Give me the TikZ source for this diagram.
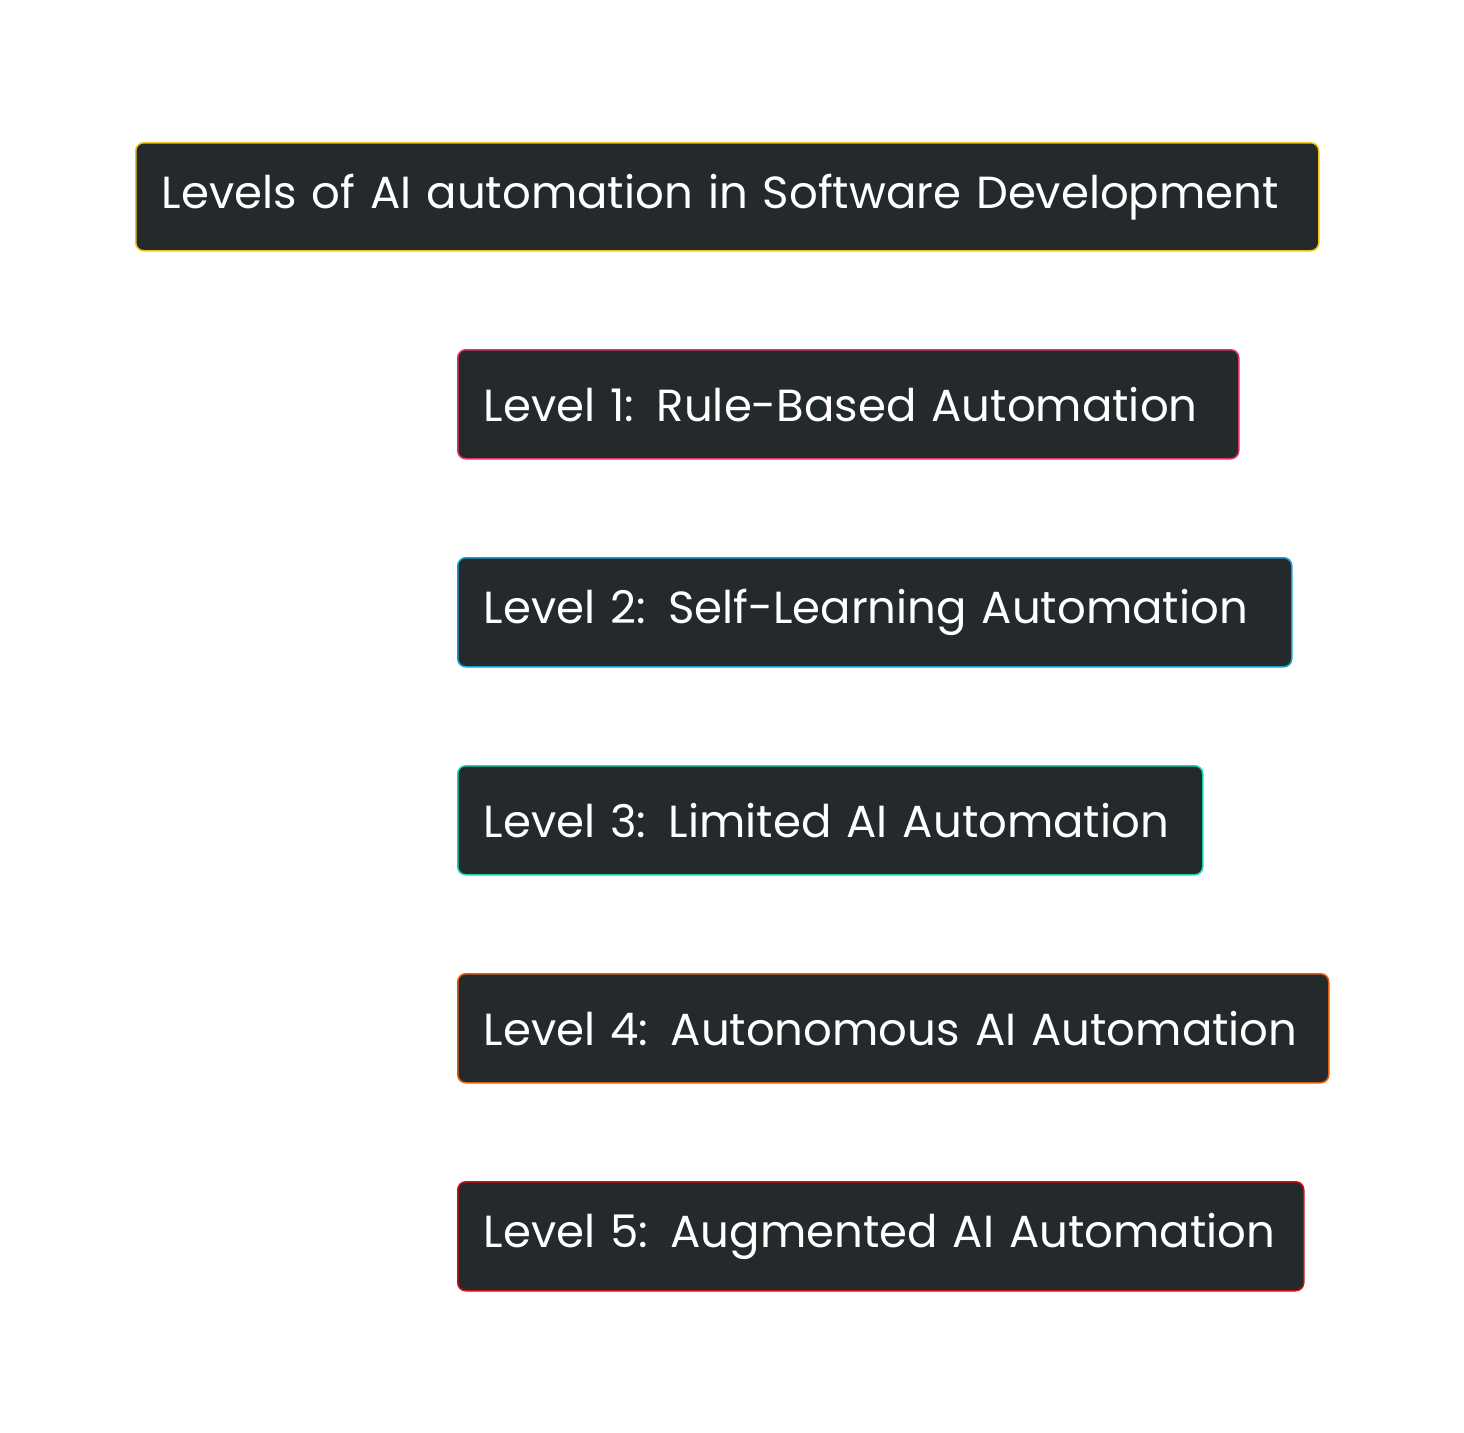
\documentclass[tikz,border=0pt]{standalone}
\usepackage{fontspec}
\setmainfont{Poppins}
\definecolor{bg}{HTML}{24292C}
\definecolor{cT}{HTML}{F0C419}
\definecolor{cA}{HTML}{E0336A}
\definecolor{cB}{HTML}{1A9ED4}
\definecolor{cC}{HTML}{1AD6B0}
\definecolor{cD}{HTML}{E0600F}
\definecolor{cE}{HTML}{D01010}
\tikzset{box/.style={draw=#1, line width=1.5pt, fill=bg, rounded corners=8pt, anchor=north west,
  minimum height=109pt, inner ysep=0pt, inner xsep=26pt, text=white, font=\fontsize{45}{52}\selectfont, align=left}}
\begin{document}
\begin{tikzpicture}[x=1pt,y=-1pt]
\useasboundingbox (0,0) rectangle (1464,1432);
\node[box=cT, minimum height=108pt, text width=1131pt] (t) at (135,142) {Levels of AI automation in Software Development};
\node[box=cA, text width=729pt] (l1) at (457,349) {Level 1: Rule-Based Automation};
\node[box=cB, text width=782pt] (l2) at (457,557) {Level 2: Self-Learning Automation};
\node[box=cC, text width=693pt] (l3) at (457,765) {Level 3: Limited AI Automation};
\node[box=cD, text width=819pt] (l4) at (457,973) {Level 4: Autonomous AI Automation};
\node[box=cE, text width=794pt] (l5) at (457,1181) {Level 5: Augmented AI Automation};
\end{tikzpicture}
\end{document}
